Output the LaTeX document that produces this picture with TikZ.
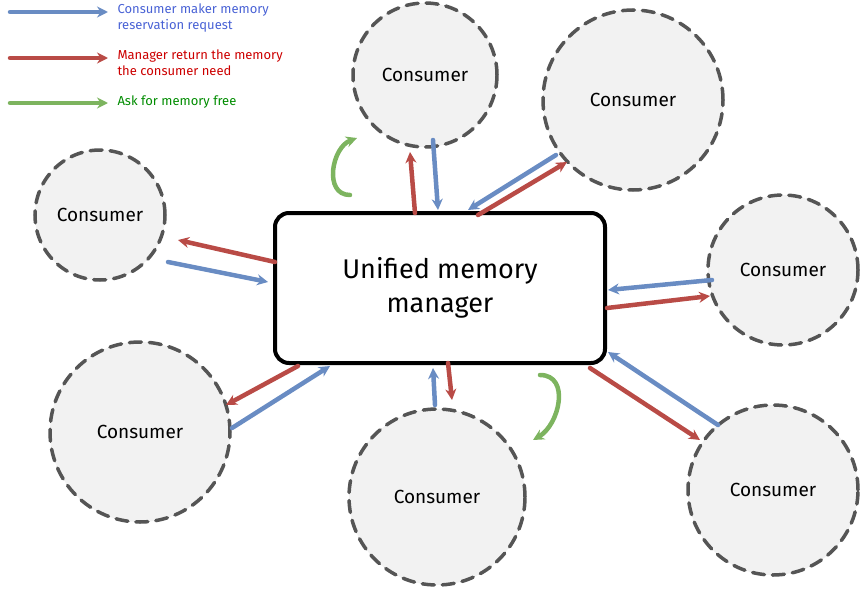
\documentclass[tikz,border=0pt]{standalone}
\usepackage{fontspec}
\setmainfont{Fira Sans}
\usetikzlibrary{arrows.meta,positioning,calc}
\definecolor{reqblue}{RGB}{105,140,195}
\definecolor{retred}{RGB}{185,75,70}
\definecolor{freegreen}{RGB}{125,180,95}
\definecolor{ringgray}{RGB}{85,85,85}
\definecolor{ringfill}{RGB}{242,242,242}
\begin{document}
\begin{tikzpicture}[x=1pt,y=-1pt,>={Stealth[length=11pt,width=11pt]},line cap=round]
\tikzstyle{consumer}=[circle,draw=ringgray,fill=ringfill,line width=3.5pt,dash pattern=on 12pt off 8pt,font=\fontsize{19}{19}\selectfont,text=black]
\tikzstyle{req}=[->,reqblue,line width=4.5pt]
\tikzstyle{ret}=[->,retred,line width=4.5pt]
\tikzstyle{free}=[->,freegreen,line width=4.5pt]
\tikzstyle{legend}=[anchor=west,align=left,font=\fontsize{13}{16}\selectfont]
\useasboundingbox (0,0) rectangle (862,589);
%
\node[consumer,minimum size=144pt] (cTop) at (425,75) {Consumer};
\node[consumer,minimum size=180pt] (cTopRight) at (633,100) {Consumer};
\node[consumer,minimum size=130pt] (cLeft) at (100,215) {Consumer};
\node[consumer,minimum size=150pt] (cRight) at (783,270) {Consumer};
\node[consumer,minimum size=180pt] (cBotLeft) at (140,432) {Consumer};
\node[consumer,minimum size=176pt] (cBot) at (437,497) {Consumer};
\node[consumer,minimum size=170pt] (cBotRight) at (773,490) {Consumer};
\node[draw,line width=4pt,rounded corners=14pt,fill=white,minimum width=330pt,minimum height=150pt,align=center,font=\fontsize{27}{34}\selectfont] (mgr) at (440,288) {Unified memory\\manager};
%
\foreach \name/\px/\py in {t1/415/213,t2/410/152,t3/433/140,t4/438/210,
  r1/556/155,r2/468/210,r3/478/215,r4/567/162,
  l1/275/262,l2/178/240,l3/168/262,l4/268/282,
  e1/712/280,e2/608/290,e3/607/308,e4/710/296,
  bl1/298/366,bl2/226/405,bl3/232/428,bl4/330/366,
  b1/435/405,b2/433/368,b3/448/363,b4/452/400,
  br1/590/368,br2/700/440,br3/718/425,br4/608/352,
  g1/350/195,g2/357/138,g3/540/375,g4/533/440,
  k1/10/12,k2/108/12,k3/10/58,k4/108/58,k5/10/103,k6/108/103}
  \coordinate (\name) at (\px,\py);
%
\draw[ret] (t1) -- (t2);  \draw[req] (t3) -- (t4);
\draw[req] (r1) -- (r2);  \draw[ret] (r3) -- (r4);
\draw[ret] (l1) -- (l2);  \draw[req] (l3) -- (l4);
\draw[req] (e1) -- (e2);  \draw[ret] (e3) -- (e4);
\draw[ret] (bl1) -- (bl2); \draw[req] (bl3) -- (bl4);
\draw[req] (b1) -- (b2);  \draw[ret] (b3) -- (b4);
\draw[ret] (br1) -- (br2); \draw[req] (br3) -- (br4);
\draw[free] (g1) to[out=180,in=200,looseness=1.2] (g2);
\draw[free] (g3) to[out=0,in=30,looseness=1.2] (g4);
%
\draw[req] (k1) -- (k2);
\draw[ret] (k3) -- (k4);
\draw[free] (k5) -- (k6);
\node[legend,text=reqblue!70!blue] (lab1) at (114,18) {Consumer maker memory\\reservation request};
\node[legend,text=red!80!black] (lab2) at (114,63) {Manager return the memory\\the consumer need};
\node[legend,text=green!55!black] (lab3) at (114,102) {Ask for memory free};
\end{tikzpicture}
\end{document}
